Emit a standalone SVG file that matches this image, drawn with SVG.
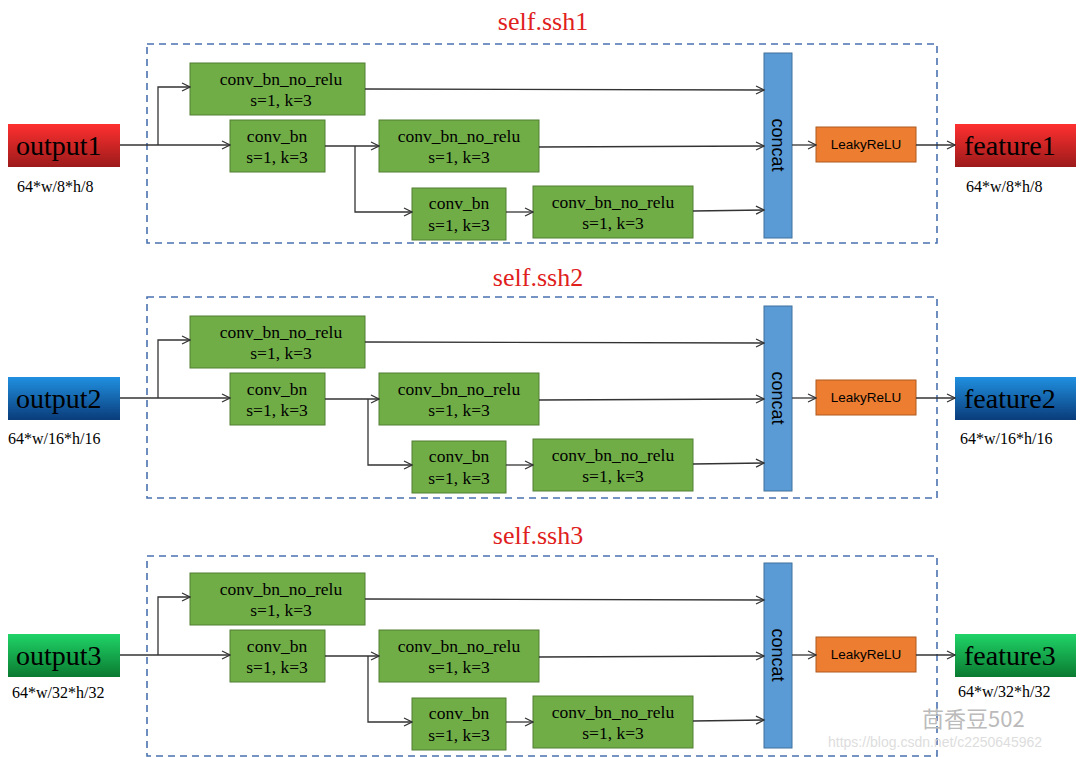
<svg xmlns="http://www.w3.org/2000/svg" width="1080" height="757" viewBox="0 0 1080 757">
<style>
.t{font-family:"Liberation Serif",serif;fill:#000}
.ttl{font-family:"Liberation Serif",serif;font-size:26px;fill:#e0201c;text-anchor:middle}
.g rect{fill:#70ad47;stroke:#507e32;stroke-width:1}
.g text{font-family:"Liberation Serif",serif;font-size:17.5px;text-anchor:middle}
.dash{fill:none;stroke:#4a72b0;stroke-width:1.6;stroke-dasharray:7,5}
.c{fill:#5b9bd5;stroke:#41719c}
.lk{fill:#ed7d31;stroke:#ae5a21}
.sans{font-family:"Liberation Sans",sans-serif}
.big{font-family:"Liberation Serif",serif;font-size:28px}
.ln{fill:none;stroke:#333;stroke-width:1.3;marker-end:url(#a)}
</style>
<defs>
<marker id="a" markerWidth="10" markerHeight="10" refX="9" refY="5" orient="auto" markerUnits="userSpaceOnUse"><path d="M1,1 L9,5 L1,9" fill="none" stroke="#333" stroke-width="1.2"/></marker>
<linearGradient id="r" x1="0" y1="0" x2="0" y2="1"><stop offset="0" stop-color="#ff3030"/><stop offset="1" stop-color="#9c1a1a"/></linearGradient>
<linearGradient id="b" x1="0" y1="0" x2="0" y2="1"><stop offset="0" stop-color="#2090e0"/><stop offset="1" stop-color="#0a3c7a"/></linearGradient>
<linearGradient id="gr" x1="0" y1="0" x2="0" y2="1"><stop offset="0" stop-color="#20d468"/><stop offset="1" stop-color="#0a7a30"/></linearGradient>
</defs>
<rect width="1080" height="757" fill="#fff"/>

<g id="ssh1">
<text class="ttl" x="543" y="30">self.ssh1</text>
<rect class="dash" x="147" y="44" width="790" height="199"/>
<g id="output1"><rect x="8" y="124" width="112" height="43" fill="url(#r)"/><text class="big" x="16" y="155">output1</text><text class="t" x="17" y="192" font-size="16">64*w/8*h/8</text></g>
<g id="a1" class="g"><rect x="190" y="63" width="175" height="52"/><text x="281" y="85">conv_bn_no_relu</text><text x="281" y="106">s=1, k=3</text></g>
<g id="b1" class="g"><rect x="230" y="120" width="95" height="52"/><text x="277" y="142">conv_bn</text><text x="277" y="163">s=1, k=3</text></g>
<g id="c1" class="g"><rect x="379" y="120" width="160" height="52"/><text x="459" y="142">conv_bn_no_relu</text><text x="459" y="163">s=1, k=3</text></g>
<g id="d1" class="g"><rect x="412" y="188" width="94" height="52"/><text x="459" y="209">conv_bn</text><text x="459" y="231">s=1, k=3</text></g>
<g id="e1" class="g"><rect x="533" y="186" width="160" height="52"/><text x="613" y="208">conv_bn_no_relu</text><text x="613" y="229">s=1, k=3</text></g>
<g id="concat1"><rect class="c" x="764" y="53" width="28" height="185"/><text class="sans" font-size="18" transform="translate(772,145) rotate(90)" text-anchor="middle">concat</text></g>
<g id="leaky1"><rect class="lk" x="816" y="127" width="100" height="35"/><text class="sans" font-size="13.5" x="866" y="149" text-anchor="middle">LeakyReLU</text></g>
<g id="feature1"><rect x="955" y="124" width="121" height="43" fill="url(#r)"/><text class="big" x="964" y="155">feature1</text><text class="t" x="966" y="192" font-size="16">64*w/8*h/8</text></g>
<g id="edges1">
<path class="ln" d="M120,145 H230"/><path class="ln" d="M158,145 V87 H190"/>
<path class="ln" d="M325,146 H379"/><path class="ln" d="M355,146 V212 H412"/>
<path class="ln" d="M506,212 H533"/>
<path class="ln" d="M365,89 L764,90"/><path class="ln" d="M539,147 L764,146"/><path class="ln" d="M693,211 L764,210"/>
<path class="ln" d="M792,145 H816"/><path class="ln" d="M916,145 H955"/>
</g>
</g>

<g id="ssh2" transform="translate(0,253)">
<text class="ttl" x="538" y="33">self.ssh2</text>
<rect class="dash" x="147" y="44" width="790" height="201"/>
<g id="output2"><rect x="8" y="124" width="112" height="43" fill="url(#b)"/><text class="big" x="16" y="155">output2</text><text class="t" x="8" y="191" font-size="16">64*w/16*h/16</text></g>
<g id="a2" class="g"><rect x="190" y="63" width="175" height="52"/><text x="281" y="85">conv_bn_no_relu</text><text x="281" y="106">s=1, k=3</text></g>
<g id="b2" class="g"><rect x="230" y="120" width="95" height="52"/><text x="277" y="142">conv_bn</text><text x="277" y="163">s=1, k=3</text></g>
<g id="c2" class="g"><rect x="379" y="120" width="160" height="52"/><text x="459" y="142">conv_bn_no_relu</text><text x="459" y="163">s=1, k=3</text></g>
<g id="d2" class="g"><rect x="412" y="188" width="94" height="52"/><text x="459" y="209">conv_bn</text><text x="459" y="231">s=1, k=3</text></g>
<g id="e2" class="g"><rect x="533" y="186" width="160" height="52"/><text x="613" y="208">conv_bn_no_relu</text><text x="613" y="229">s=1, k=3</text></g>
<g id="concat2"><rect class="c" x="764" y="53" width="28" height="185"/><text class="sans" font-size="18" transform="translate(772,145) rotate(90)" text-anchor="middle">concat</text></g>
<g id="leaky2"><rect class="lk" x="816" y="127" width="100" height="35"/><text class="sans" font-size="13.5" x="866" y="149" text-anchor="middle">LeakyReLU</text></g>
<g id="feature2"><rect x="955" y="124" width="121" height="43" fill="url(#b)"/><text class="big" x="964" y="155">feature2</text><text class="t" x="960" y="191" font-size="16">64*w/16*h/16</text></g>
<g id="edges2">
<path class="ln" d="M120,145 H230"/><path class="ln" d="M158,145 V87 H190"/>
<path class="ln" d="M325,146 H379"/><path class="ln" d="M368,146 V212 H412"/>
<path class="ln" d="M506,212 H533"/>
<path class="ln" d="M365,89 L764,90"/><path class="ln" d="M539,147 L764,146"/><path class="ln" d="M693,211 L764,210"/>
<path class="ln" d="M792,145 H816"/><path class="ln" d="M916,145 H955"/>
</g>
</g>

<g id="ssh3" transform="translate(0,510)">
<text class="ttl" x="538" y="34">self.ssh3</text>
<rect class="dash" x="147" y="46" width="790" height="200"/>
<g id="output3"><rect x="8" y="124" width="112" height="43" fill="url(#gr)"/><text class="big" x="16" y="155">output3</text><text class="t" x="12" y="188" font-size="16">64*w/32*h/32</text></g>
<g id="a3" class="g"><rect x="190" y="63" width="175" height="52"/><text x="281" y="85">conv_bn_no_relu</text><text x="281" y="106">s=1, k=3</text></g>
<g id="b3" class="g"><rect x="230" y="120" width="95" height="52"/><text x="277" y="142">conv_bn</text><text x="277" y="163">s=1, k=3</text></g>
<g id="c3" class="g"><rect x="379" y="120" width="160" height="52"/><text x="459" y="142">conv_bn_no_relu</text><text x="459" y="163">s=1, k=3</text></g>
<g id="d3" class="g"><rect x="412" y="188" width="94" height="52"/><text x="459" y="209">conv_bn</text><text x="459" y="231">s=1, k=3</text></g>
<g id="e3" class="g"><rect x="533" y="186" width="160" height="52"/><text x="613" y="208">conv_bn_no_relu</text><text x="613" y="229">s=1, k=3</text></g>
<g id="concat3"><rect class="c" x="764" y="53" width="28" height="185"/><text class="sans" font-size="18" transform="translate(772,145) rotate(90)" text-anchor="middle">concat</text></g>
<g id="leaky3"><rect class="lk" x="816" y="127" width="100" height="35"/><text class="sans" font-size="13.5" x="866" y="149" text-anchor="middle">LeakyReLU</text></g>
<g id="feature3"><rect x="955" y="124" width="121" height="43" fill="url(#gr)"/><text class="big" x="964" y="155">feature3</text><text class="t" x="958" y="187" font-size="16">64*w/32*h/32</text></g>
<g id="edges3">
<path class="ln" d="M120,145 H230"/><path class="ln" d="M158,145 V87 H190"/>
<path class="ln" d="M325,146 H379"/><path class="ln" d="M368,146 V212 H412"/>
<path class="ln" d="M506,212 H533"/>
<path class="ln" d="M365,89 L764,90"/><path class="ln" d="M539,147 L764,146"/><path class="ln" d="M693,211 L764,210"/>
<path class="ln" d="M792,145 H816"/><path class="ln" d="M916,145 H955"/>
</g>
</g>

<g id="watermark" fill="#bbb">
<text x="922" y="727" font-family="'Noto Sans CJK SC',sans-serif" font-size="22">茴香豆502</text>
<text x="828" y="747" font-family="'Liberation Sans',sans-serif" font-size="14" fill="#ddd">https://blog.csdn.net/c2250645962</text>
</g>
</svg>
